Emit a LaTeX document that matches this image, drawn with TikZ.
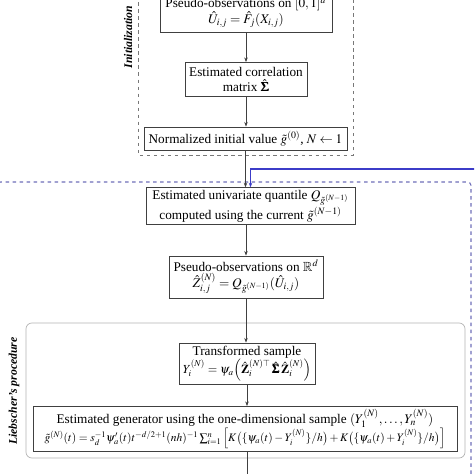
\documentclass[tikz,border=0pt]{standalone}
\usepackage{amsmath,amssymb}
\usepackage{mathptmx}
\usepackage{bm}
\usepackage{fontspec}
\setmainfont{Liberation Serif}
\usetikzlibrary{arrows.meta}
\definecolor{loopblue}{RGB}{60,60,200}
\definecolor{framegray}{RGB}{120,120,120}
\definecolor{liebframe}{RGB}{110,110,185}
\begin{document}
\begin{tikzpicture}[x=0.03cm, y=-0.03cm,
    box/.style={draw=black!75, line width=0.7pt, align=center, inner sep=2pt,
        font=\fontsize{11.3}{13.4}\selectfont},
    flow/.style={-{Stealth[length=4pt,width=3pt]}, black!75, line width=0.6pt},
    grouplabel/.style={rotate=90, font=\fontsize{10}{12}\selectfont\bfseries\itshape}]
    \clip (0,0) rectangle (474,474);

    % Initialization
    \draw[framegray, dashed, line width=0.8pt] (138,-40) rectangle (353,155);
    \node[grouplabel] (initlabel) at (128,37) {Initialization};

    \node[box, minimum width=5.16cm, minimum height=1.2cm] (pobs) at (246,12)
        {Pseudo-observations on $[0,1]^d$\\ $\hat U_{i,j} = \hat F_j(X_{i,j})$};
    \node[box, minimum width=3.66cm, minimum height=1.02cm] (corr) at (246,79.5)
        {Estimated correlation\\ matrix $\hat{\bm\Sigma}$};
    \node[box, minimum width=6.09cm, minimum height=0.69cm] (init) at (245.5,138.5)
        {Normalized initial value $\tilde g^{(0)}$, $N \leftarrow 1$};

    \draw[flow] (pobs) -- (corr);
    \draw[flow] (corr.south) -- (corr.south |- init.north);

    % Liebscher's procedure
    \draw[liebframe, dashed, line width=0.9pt, rounded corners=3pt] (-3,182) rectangle (471,495);
    \draw[black!30, line width=0.6pt, rounded corners=5pt] (26,323) rectangle (465,458);
    \node[grouplabel] (lieblabel) at (14,391) {Liebscher's procedure};

    \node[box, minimum width=6.27cm, minimum height=1.08cm] (quant) at (250.5,206)
        {Estimated univariate quantile $Q_{\tilde g^{(N-1)}}$\\ computed using the current $\tilde g^{(N-1)}$};
    \node[box, minimum width=4.62cm, minimum height=1.26cm] (pobsR) at (246,277)
        {Pseudo-observations on $\mathbb{R}^d$\\ $\hat Z^{(N)}_{i,j} = Q_{\tilde g^{(N-1)}}(\hat U_{i,j})$};
    \node[box, minimum width=4.08cm, minimum height=1.23cm, inner sep=1pt] (trans) at (247,363.5)
        {Transformed sample\\
         {\fontsize{10.5}{12.5}\selectfont $Y_i^{(N)} = \psi_a\Big(\hat{\mathbf Z}_i^{(N)\top}\,\hat{\bm\Sigma}\,\hat{\mathbf Z}_i^{(N)}\Big)$}};
    \node[box, minimum width=12.72cm, minimum height=1.26cm] (gen) at (245,429)
        {Estimated generator using the one-dimensional sample $(Y_1^{(N)},\ldots,Y_n^{(N)})$\\
         {\fontsize{9.8}{12}\selectfont $\tilde g^{(N)}(t) = s_d^{-1}\psi_a'(t)t^{-d/2+1}(nh)^{-1}\sum_{i=1}^n\Big[K\big(\{\psi_a(t)-Y_i^{(N)}\}/h\big)+K\big(\{\psi_a(t)+Y_i^{(N)}\}/h\big)\Big]$}};

    \draw[flow] (init.south) -- (init.south |- quant.north);
    \draw[flow] (quant.south -| pobsR.north) -- (pobsR.north);
    \draw[flow] (pobsR.south) -- (pobsR.south |- trans.north);
    \draw[flow] (trans.south) -- (trans.south |- gen.north);

    % Loop back
    \coordinate (loopin) at (480,169);
    \coordinate (loopout) at (246,480);
    \draw[loopblue, line width=0.9pt, -{Stealth[length=4pt,width=3pt]}] (loopin) -| (quant.north);
    \draw[black!75, line width=0.6pt] (trans.south |- gen.south) -- (trans.south |- loopout);
\end{tikzpicture}
\end{document}
